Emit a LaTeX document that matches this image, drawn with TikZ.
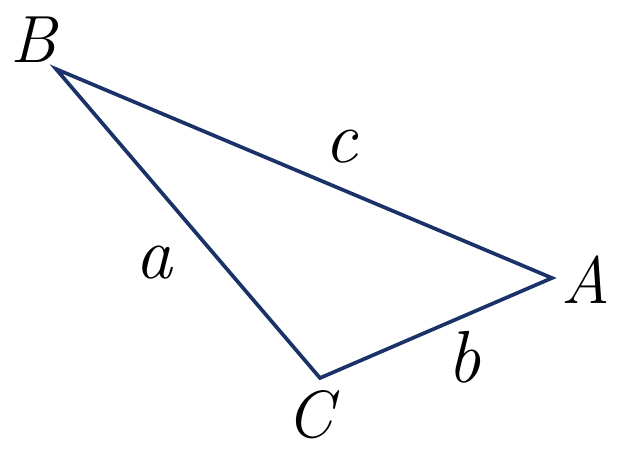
\documentclass[tikz,border=0pt]{standalone}
\usepackage{fontspec}
\usepackage{tikz}
\usetikzlibrary{positioning}
\definecolor{navyline}{RGB}{26,50,104}
\tikzset{
  side/.style={draw=navyline, line width=2.1pt},
  vertexlabel/.style={
    anchor=base,
    inner sep=0pt,
    font=\fontsize{38}{46}\selectfont\itshape},
  sidelabel/.style={
    anchor=base,
    inner sep=0pt,
    font=\fontsize{42}{48}\selectfont\itshape},
}
\begin{document}
\begin{tikzpicture}
	\useasboundingbox (0,0) rectangle (12.48,9.06);
	% corners of the triangle
	\coordinate (B) at (1.12,7.68);
	\coordinate (A) at (11.04,3.50);
	\coordinate (C) at (6.40,1.50);
	\draw [side] (B) -- (A) -- (C) -- cycle;
	% vertex names
	\node [vertexlabel] (lB) at (0.66,7.80) {B};
	\node [vertexlabel] (lA) at (11.72,3.00) {A};
	\node [vertexlabel] (lC) at (6.20,0.32) {C};
	% side names
	\node [sidelabel] (lc) at (6.82,5.80) {c};
	\node [sidelabel] (la) at (3.08,3.50) {a};
	\node [sidelabel] (lb) at (9.28,1.42) {b};
\end{tikzpicture}
\end{document}
